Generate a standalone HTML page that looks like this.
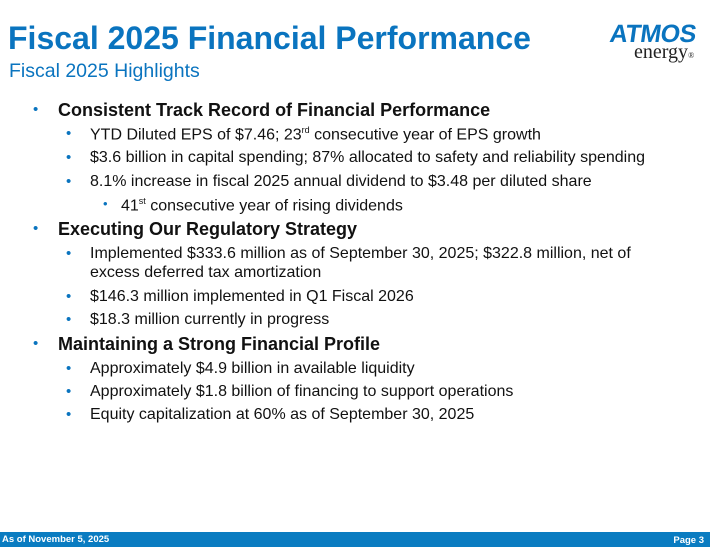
<!DOCTYPE html>
<html><head><meta charset="utf-8"><style>
body{margin:0;width:710px;height:550px;background:#fff;position:relative;overflow:hidden;font-family:"Liberation Sans",Arial,sans-serif}
.t{position:absolute;left:8px;top:20px;font-size:32px;font-weight:bold;color:#0a74bf;white-space:nowrap}
.s{position:absolute;left:9px;top:60px;font-size:19.5px;color:#0a74bf}
.l{position:absolute;white-space:nowrap;color:#111}
.b1{font-weight:bold;font-size:18px;left:58px}
.b2{font-size:16px;left:90px}
.d{position:absolute;color:#0a74bf;font-size:15px}
.foot{position:absolute;left:0;top:532px;width:710px;height:15px;background:#0a7cc1;color:#fff;font-size:9.5px;font-weight:bold}
</style></head><body>
<div class="t">Fiscal 2025 Financial Performance</div>
<div class="s">Fiscal 2025 Highlights</div>
<div style="position:absolute;left:610px;top:22px;font-weight:900;font-size:25px;color:#0a74bf;letter-spacing:-0.5px;line-height:24px;transform:skewX(-8deg)">ATMOS</div>
<div style="position:absolute;left:634px;top:42px;font-family:'Liberation Serif',serif;font-size:20px;color:#222;line-height:20px">energy<span style="font-size:8px">®</span></div>

<div class="d" style="left:33px;top:101px">•</div><div class="l b1" style="top:100px">Consistent Track Record of Financial Performance</div>
<div class="d" style="left:66px;top:125px">•</div><div class="l b2" style="top:125px">YTD Diluted EPS of $7.46; 23<sup style="font-size:9px">rd</sup> consecutive year of EPS growth</div>
<div class="d" style="left:66px;top:149px">•</div><div class="l b2" style="top:149px">$3.6 billion in capital spending; 87% allocated to safety and reliability spending</div>
<div class="d" style="left:66px;top:173px">•</div><div class="l b2" style="top:173px">8.1% increase in fiscal 2025 annual dividend to $3.48 per diluted share</div>
<div class="d" style="left:103px;top:196px;font-size:13px">•</div><div class="l b2" style="left:121px;top:196px">41<sup style="font-size:9px">st</sup> consecutive year of rising dividends</div>

<div class="d" style="left:33px;top:220px">•</div><div class="l b1" style="top:219px">Executing Our Regulatory Strategy</div>
<div class="d" style="left:66px;top:245px">•</div><div class="l b2" style="top:245px">Implemented $333.6 million as of September 30, 2025; $322.8 million, net of</div>
<div class="l b2" style="top:264px">excess deferred tax amortization</div>
<div class="d" style="left:66px;top:288px">•</div><div class="l b2" style="top:288px">$146.3 million implemented in Q1 Fiscal 2026</div>
<div class="d" style="left:66px;top:311px">•</div><div class="l b2" style="top:311px">$18.3 million currently in progress</div>

<div class="d" style="left:33px;top:335px">•</div><div class="l b1" style="top:334px">Maintaining a Strong Financial Profile</div>
<div class="d" style="left:66px;top:360px">•</div><div class="l b2" style="top:360px">Approximately $4.9 billion in available liquidity</div>
<div class="d" style="left:66px;top:383px">•</div><div class="l b2" style="top:383px">Approximately $1.8 billion of financing to support operations</div>
<div class="d" style="left:66px;top:406px">•</div><div class="l b2" style="top:406px">Equity capitalization at 60% as of September 30, 2025</div>

<div class="foot"><span style="position:absolute;left:2px;top:2px">As of November 5, 2025</span><span style="position:absolute;right:6px;top:3px">Page 3</span></div>
</body></html>
